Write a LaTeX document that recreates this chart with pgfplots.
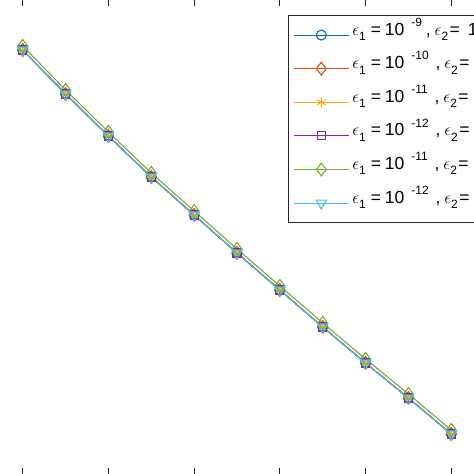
\documentclass[border=0pt]{standalone}
\usepackage{fontspec}
\setmainfont{Liberation Sans}
\usepackage{pgfplots}
\pgfplotsset{compat=1.18}

\definecolor{c1}{rgb}{0,0.447,0.741}
\definecolor{c2}{rgb}{0.85,0.325,0.098}
\definecolor{c3}{rgb}{0.929,0.694,0.125}
\definecolor{c4}{rgb}{0.494,0.184,0.556}
\definecolor{c5}{rgb}{0.466,0.674,0.188}
\definecolor{c6}{rgb}{0.301,0.745,0.933}
\definecolor{axgray}{rgb}{0.15,0.15,0.15}

\newcommand{\sub}[1]{\raisebox{-5.5pt}{\fontsize{12}{12}\selectfont #1}}
\newcommand{\sups}[1]{\raisebox{8.7pt}{\fontsize{12}{12}\selectfont #1}}
% #1 exponent of eps1, #2 gap before the comma, #3 exponent of eps2
\newcommand{\ent}[3]{$\epsilon$\sub{1}\hspace{5pt}=\hspace{3.8pt}10\hspace{7pt}\sups{#1}\hspace{#2},\hspace{4pt}$\epsilon$\sub{2}\hspace{1.5pt}=\hspace{8pt}10\hspace{7pt}\sups{#3}}

\pgfplotstableread{
x  y
1  425
2  381
3  339
4  298
5  260
6  222
7  185
8  148
9  112
10 77
11 41
}\base

\pgfplotstableread{
x  y
1  429
2  385
3  343
4  302
5  264
6  226
7  189
8  152
9  116
10 81
11 45
}\upper

\begin{document}
\begin{tikzpicture}
\path[use as bounding box, clip] (0pt,0pt) rectangle (474pt,474pt);
\begin{axis}[
    at={(-3pt,-1pt)}, anchor=south west,
    scale only axis,
    width=480pt, height=476pt,
    xmin=0.4, xmax=11.6,
    ymin=0, ymax=476,
    xtick={1,3,5,7,9,11},
    xticklabels={},
    ytick=\empty,
    xtick pos=both,
    tick align=inside,
    major tick length=7pt,
    tick style={axgray, line width=0.8pt},
    axis line style={axgray, line width=0.8pt},
    every axis plot/.append style={line width=1.1pt, mark options={solid, line width=1.1pt}},
    legend cell align=left,
    legend style={
        at={(axis description cs:0.606,0.966)}, anchor=north west,
        draw=axgray, line width=0.8pt, fill=white,
        font=\fontsize{17.5}{19}\selectfont,
        row sep=0pt, inner xsep=5pt, inner ysep=2.7pt,
        nodes={inner xsep=3pt, inner ysep=0pt, text height=16.8pt, text depth=16.8pt},
    },
    legend image code/.code={
        \draw[mark repeat=2, mark phase=2] plot coordinates {(0pt,0pt) (27.5pt,0pt) (55pt,0pt)};
    },
]
\addplot[c1, mark=o, mark size=5pt] table[x=x, y=y] {\base};
\addplot[c2, mark=diamond, mark size=6.5pt] table[x=x, y=y] {\base};
\addplot[c3, mark=asterisk, mark size=5pt] table[x=x, y=y] {\base};
\addplot[c4, mark=square, mark size=4pt] table[x=x, y=y] {\base};
\addplot[c5, mark=diamond, mark size=6.5pt] table[x=x, y=y] {\upper};
\addplot[c6, mark=triangle, mark size=6pt, mark options={rotate=180}] table[x=x, y=y] {\base};
\legend{\ent{-9}{3.8pt}{-9}, \ent{-10}{6.8pt}{-10}, \ent{-11}{6.8pt}{-11},
        \ent{-12}{6.8pt}{-12}, \ent{-11}{6.8pt}{-9}, \ent{-12}{6.8pt}{-9}}
\end{axis}
\end{tikzpicture}
\end{document}
